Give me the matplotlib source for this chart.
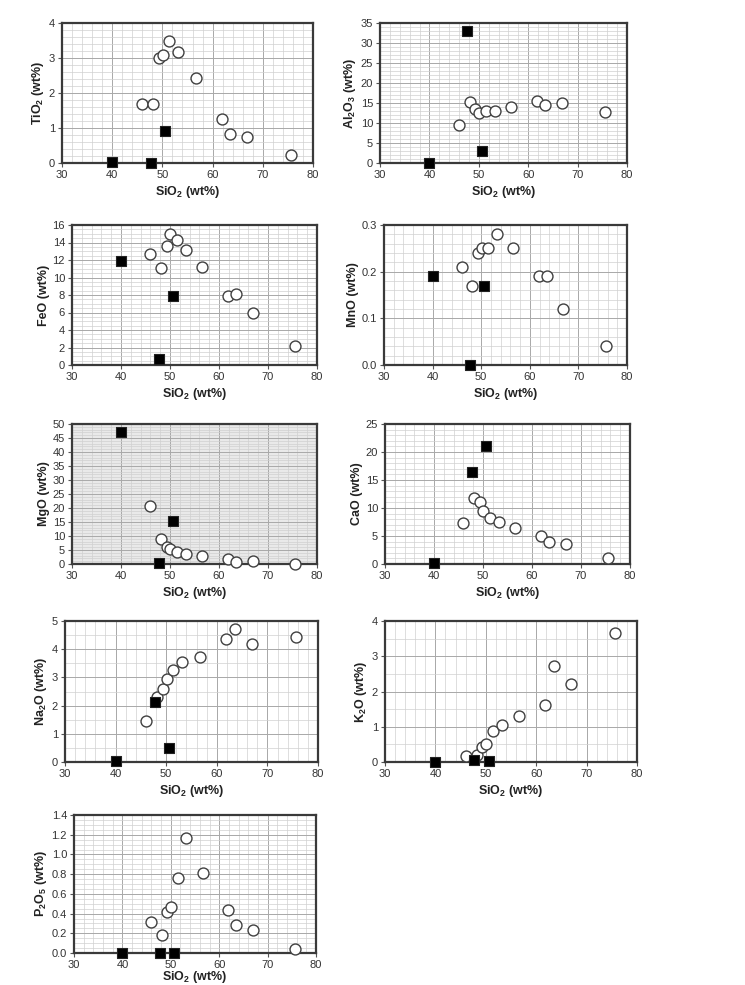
import matplotlib
matplotlib.use("Agg")
import matplotlib.pyplot as plt
from matplotlib.ticker import MultipleLocator

plt.rcParams['font.family'] = ['Liberation Sans', 'DejaVu Sans']
plt.rcParams['mathtext.fontset'] = 'custom'
plt.rcParams['mathtext.rm'] = 'Liberation Sans'
plt.rcParams['mathtext.bf'] = 'Liberation Sans:bold'
plt.rcParams['mathtext.default'] = 'bf'

# SiO2 of the rock series (open circles) and the three minerals (black squares)
sio2_rock = [46.0, 48.2, 49.3, 50.1, 51.4, 53.2, 56.6, 61.8, 63.5, 66.9, 75.6]
sio2_min = [40.0, 47.7, 50.6]

tio2_rock = [1.70, 1.70, 3.00, 3.10, 3.48, 3.16, 2.43, 1.27, 0.83, 0.73, 0.22]
tio2_min = [0.03, 0.0, 0.91]
al2o3_rock = [9.4, 15.3, 13.5, 12.6, 12.9, 13.0, 13.9, 15.5, 14.5, 15.0, 12.8]
al2o3_min = [0.1, 32.9, 3.1]
feo_rock = [12.7, 11.1, 13.6, 15.0, 14.3, 13.2, 11.2, 7.9, 8.1, 5.9, 2.2]
feo_min = [11.9, 0.7, 7.9]
mno_rock = [0.21, 0.17, 0.24, 0.25, 0.25, 0.28, 0.25, 0.19, 0.19, 0.12, 0.04]
mno_min = [0.19, 0.0, 0.17]
mgo_rock = [20.6, 8.8, 6.2, 5.2, 4.4, 3.4, 3.0, 1.7, 0.7, 0.9, 0.1]
mgo_min = [47.0, 0.2, 15.4]
cao_rock = [7.4, 11.7, 11.0, 9.4, 8.2, 7.5, 6.5, 5.0, 4.0, 3.6, 1.0]
cao_min = [0.2, 16.5, 21.0]
na2o_rock = [1.47, 2.30, 2.60, 2.96, 3.26, 3.56, 3.72, 4.35, 4.72, 4.20, 4.43]
na2o_min = [0.02, 2.13, 0.48]
k2o_rock = [0.17, 0.20, 0.43, 0.52, 0.89, 1.05, 1.30, 1.62, 2.73, 2.22, 3.66]
k2o_min = [0.0, 0.05, 0.02]
p2o5_rock = [0.31, 0.18, 0.42, 0.47, 0.76, 1.17, 0.81, 0.44, 0.28, 0.23, 0.04]
p2o5_min = [0.0, 0.0, 0.0]

W, H = 745, 985
fig = plt.figure(figsize=(W / 100, H / 100), dpi=100)

# (pixel box x0, x1, y0, y1), label, rock, mineral, ymax, major, minor, fmt, facecolor
panels = [
    ((62, 313, 23, 163), 'TiO$_2$ (wt%)', tio2_rock, tio2_min, 4, 1, 0.2, '%d', 'white'),
    ((380, 627, 23, 163), 'Al$_2$O$_3$ (wt%)', al2o3_rock, al2o3_min, 35, 5, 1, '%d', 'white'),
    ((72, 317, 225, 365), 'FeO (wt%)', feo_rock, feo_min, 16, 2, 0.5, '%d', 'white'),
    ((384, 627, 225, 365), 'MnO (wt%)', mno_rock, mno_min, 0.3, 0.1, 0.02, '%.1f', 'white'),
    ((72, 317, 424, 564), 'MgO (wt%)', mgo_rock, mgo_min, 50, 5, 1, '%d', '#e9e9e9'),
    ((385, 630, 424, 564), 'CaO (wt%)', cao_rock, cao_min, 25, 5, 1, '%d', 'white'),
    ((65, 318, 621, 762), 'Na$_2$O (wt%)', na2o_rock, na2o_min, 5, 1, 0.5, '%d', 'white'),
    ((385, 637, 621, 762), 'K$_2$O (wt%)', k2o_rock, k2o_min, 4, 1, 0.5, '%d', 'white'),
    ((74, 316, 815, 953), 'P$_2$O$_5$ (wt%)', p2o5_rock, p2o5_min, 1.4, 0.2, 0.05, '%.1f', 'white'),
]

for i, ((x0, x1, y0, y1), label, rock, mins, ymax, major, minor, fmt, fc) in enumerate(panels):
    ax = fig.add_axes([x0 / W, 1 - y1 / H, (x1 - x0) / W, (y1 - y0) / H])
    ax.set_facecolor(fc)
    ax.set_xlim(30, 80)
    ax.set_ylim(0, ymax)
    ax.xaxis.set_major_locator(MultipleLocator(10))
    ax.xaxis.set_minor_locator(MultipleLocator(2))
    ax.yaxis.set_major_locator(MultipleLocator(major))
    ax.yaxis.set_minor_locator(MultipleLocator(minor))
    ax.yaxis.set_major_formatter(plt.FormatStrFormatter(fmt))
    ax.grid(which='major', color='#a8a8a8', lw=0.7)
    ax.grid(which='minor', color='#d0d0d0', lw=0.5)
    ax.set_axisbelow(True)
    for s in ax.spines.values():
        s.set_color('#3a3a3a')
        s.set_linewidth(1.6)
    ax.tick_params(which='major', length=3, width=0.8, color='#555555',
                   labelsize=8, labelcolor='#333333', pad=2)
    ax.tick_params(which='minor', length=0)
    ax.scatter(sio2_rock, rock, s=62, marker='o', facecolor='white',
               edgecolor='#404040', linewidth=1.0, zorder=5, clip_on=False)
    ax.scatter(sio2_min, mins, s=58, marker='s', facecolor='black',
               edgecolor='#222222', linewidth=0.8, zorder=6, clip_on=False)
    # the last panel sits at the very bottom edge, so pull its label up a little
    pad = -1 if i == len(panels) - 1 else 3
    ax.set_xlabel('SiO$_2$ (wt%)', fontsize=9, fontweight='bold', color='#222222', labelpad=pad)
    ax.set_ylabel(label, fontsize=9, fontweight='bold', color='#222222', labelpad=2)

fig.savefig('out.png', dpi=100)
